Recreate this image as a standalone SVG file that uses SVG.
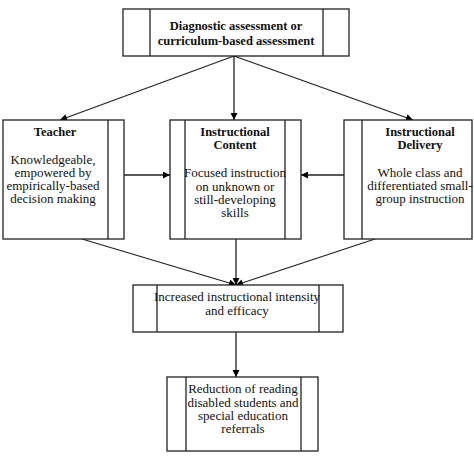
<svg xmlns="http://www.w3.org/2000/svg" width="474" height="474" viewBox="0 0 474 474">
<defs>
<marker id="ah" viewBox="0 0 10 10" refX="10" refY="5" markerWidth="8" markerHeight="7" markerUnits="userSpaceOnUse" orient="auto">
<path d="M0,0 L10,5 L0,10 z" fill="#000"/>
</marker>
<style>
.box{fill:#fff;stroke:#222;stroke-width:1.3}
.in{stroke:#222;stroke-width:1.3}
.c{stroke:#222;stroke-width:1.3;fill:none;marker-end:url(#ah)}
text{font-family:"Liberation Serif","Times New Roman",serif;font-size:13px;fill:#111;text-anchor:middle}
.b{font-weight:bold;font-size:12.5px}
</style>
</defs>
<rect width="474" height="474" fill="#fff"/>
<g id="connectors">
<line class="c" x1="234" y1="56" x2="60" y2="120"/>
<line class="c" x1="234" y1="56" x2="234" y2="120"/>
<line class="c" x1="234" y1="56" x2="413" y2="120"/>
<line class="c" x1="124" y1="175" x2="170" y2="175"/>
<line class="c" x1="344" y1="175" x2="301" y2="175"/>
<line class="c" x1="82" y1="239" x2="236" y2="285"/>
<line class="c" x1="236" y1="239" x2="236" y2="285"/>
<line class="c" x1="375" y1="239" x2="236" y2="285"/>
<line class="c" x1="236" y1="332" x2="236" y2="377"/>
</g>
<g id="diagnostic">
<rect class="box" x="123" y="9" width="226" height="47"/>
<line class="in" x1="150" y1="9" x2="150" y2="56"/>
<line class="in" x1="323" y1="9" x2="323" y2="56"/>
<text class="b" x="236" y="30">Diagnostic assessment or</text>
<text class="b" x="236" y="45">curriculum-based assessment</text>
</g>
<g id="teacher">
<rect class="box" x="3" y="120" width="121" height="119"/>
<line class="in" x1="108" y1="120" x2="108" y2="239"/>
<text class="b" x="55" y="136">Teacher</text>
<text x="53" y="164">Knowledgeable,</text>
<text x="53" y="177">empowered by</text>
<text x="53" y="190">empirically-based</text>
<text x="53" y="203">decision making</text>
</g>
<g id="content">
<rect class="box" x="170" y="120" width="131" height="119"/>
<line class="in" x1="185" y1="120" x2="185" y2="239"/>
<line class="in" x1="285" y1="120" x2="285" y2="239"/>
<text class="b" x="235" y="136">Instructional</text>
<text class="b" x="235" y="149">Content</text>
<text x="235" y="177">Focused instruction</text>
<text x="235" y="191">on unknown or</text>
<text x="235" y="204">still-developing</text>
<text x="235" y="217">skills</text>
</g>
<g id="delivery">
<rect class="box" x="344" y="120" width="128" height="119"/>
<line class="in" x1="362" y1="120" x2="362" y2="239"/>
<text class="b" x="420" y="136">Instructional</text>
<text class="b" x="420" y="149">Delivery</text>
<text x="420" y="177">Whole class and</text>
<text x="420" y="190">differentiated small-</text>
<text x="420" y="203">group instruction</text>
</g>
<g id="intensity">
<rect class="box" x="133" y="285" width="210" height="47"/>
<line class="in" x1="157" y1="285" x2="157" y2="332"/>
<line class="in" x1="319" y1="285" x2="319" y2="332"/>
<text x="237" y="301">Increased instructional intensity</text>
<text x="237" y="315">and efficacy</text>
</g>
<g id="reduction">
<rect class="box" x="167" y="377" width="151" height="74"/>
<line class="in" x1="186" y1="377" x2="186" y2="451"/>
<line class="in" x1="301" y1="377" x2="301" y2="451"/>
<text x="243" y="393">Reduction of reading</text>
<text x="243" y="407">disabled students and</text>
<text x="243" y="420">special education</text>
<text x="243" y="433">referrals</text>
</g>
</svg>
